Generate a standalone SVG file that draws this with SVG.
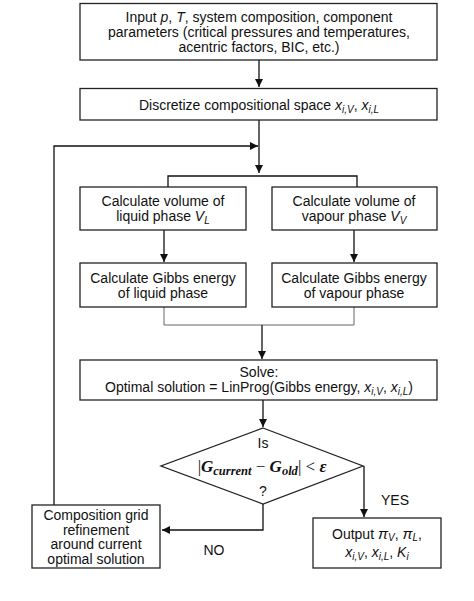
<svg xmlns="http://www.w3.org/2000/svg" width="474" height="601" viewBox="0 0 474 601">
<defs>
<marker id="ah" viewBox="0 0 10 10" refX="10" refY="5" markerWidth="8" markerHeight="9" markerUnits="userSpaceOnUse" orient="auto">
<path d="M0,0 L10,5 L0,10 z" fill="#111"/>
</marker>
<style>
.box{fill:#fff;stroke:#222;stroke-width:1.3}
.t{font-family:"Liberation Sans",Arial,sans-serif;font-size:14px;fill:#111;text-anchor:middle}
.i{font-style:italic}
.s{font-size:10px;font-style:italic}
.ln{fill:none;stroke:#111;stroke-width:1.3}
.gl{fill:none;stroke:#666;stroke-width:1}
.ar{fill:none;stroke:#111;stroke-width:1.3;marker-end:url(#ah)}
.m{font-family:"Liberation Serif","DejaVu Serif",serif;font-size:17px;font-weight:bold;font-style:italic;fill:#111;text-anchor:middle}
</style>
</defs>
<rect width="474" height="601" fill="#fff"/>
<g id="connectors">
<path class="ar" d="M259,60 L259,87"/>
<path class="ar" d="M259,120 L259,173"/>
<path class="ar" d="M54,505 L54,146 L258,146"/>
<path class="ln" d="M168,187 L168,176 L357,176 L357,187"/>
<path class="ar" d="M164,230 L164,262"/>
<path class="ar" d="M354,230 L354,262"/>
<path class="gl" d="M164,307 L164,325 L354,325 L354,307"/>
<path class="ar" d="M262,325 L262,359"/>
<path class="ar" d="M263,400 L263,427"/>
<path class="ar" d="M364,466 L364,517"/>
<path class="ar" d="M263,504 L263,530 L162,530"/>
</g>
<g id="input">
<rect class="box" x="80" y="3.5" width="357" height="56.5"/>
<text class="t" x="259" y="22">Input <tspan class="i">p</tspan>, <tspan class="i">T</tspan>, system composition, component</text>
<text class="t" x="259" y="37">parameters (critical pressures and temperatures,</text>
<text class="t" x="259" y="52">acentric factors, BIC, etc.)</text>
</g>
<g id="discretize">
<rect class="box" x="80" y="88.5" width="357" height="31.5"/>
<text class="t" x="259" y="110">Discretize compositional space <tspan class="i">x</tspan><tspan class="s" dy="3">i,V</tspan><tspan dy="-3">, </tspan><tspan class="i">x</tspan><tspan class="s" dy="3">i,L</tspan></text>
</g>
<g id="volL">
<rect class="box" x="80" y="187" width="166" height="43"/>
<text class="t" x="163" y="206">Calculate volume of</text>
<text class="t" x="163" y="221">liquid phase <tspan class="i">V</tspan><tspan class="s" dy="3">L</tspan></text>
</g>
<g id="volV">
<rect class="box" x="272" y="187" width="165" height="43"/>
<text class="t" x="354" y="206">Calculate volume of</text>
<text class="t" x="354" y="221">vapour phase <tspan class="i">V</tspan><tspan class="s" dy="3">V</tspan></text>
</g>
<g id="gibbsL">
<rect class="box" x="80" y="263" width="166" height="44"/>
<text class="t" x="163" y="283">Calculate Gibbs energy</text>
<text class="t" x="163" y="298">of liquid phase</text>
</g>
<g id="gibbsV">
<rect class="box" x="272" y="263" width="165" height="44"/>
<text class="t" x="354" y="283">Calculate Gibbs energy</text>
<text class="t" x="354" y="298">of vapour phase</text>
</g>
<g id="solve">
<rect class="box" x="80" y="360" width="357" height="40"/>
<text class="t" x="259" y="377">Solve:</text>
<text class="t" x="259" y="392">Optimal solution = LinProg(Gibbs energy, <tspan class="i">x</tspan><tspan class="s" dy="3">i,V</tspan><tspan dy="-3">, </tspan><tspan class="i">x</tspan><tspan class="s" dy="3">i,L</tspan><tspan dy="-3">)</tspan></text>
</g>
<g id="decision">
<polygon class="box" points="263,428 363,466 263,504 161,466"/>
<text class="t" x="263" y="448">Is</text>
<text class="m" x="262" y="472"><tspan font-weight="normal" font-style="normal">|</tspan>G<tspan font-size="12.5" dy="3">current</tspan><tspan dy="-3" font-weight="normal" font-style="normal"> − </tspan>G<tspan font-size="12.5" dy="3">old</tspan><tspan dy="-3" font-weight="normal" font-style="normal">| &lt; </tspan>ε</text>
<text class="t" x="263" y="496">?</text>
</g>
<g id="refine">
<rect class="box" x="32" y="505" width="128" height="63"/>
<text class="t" x="96" y="520">Composition grid</text>
<text class="t" x="96" y="534.5">refinement</text>
<text class="t" x="96" y="549">around current</text>
<text class="t" x="96" y="563.5">optimal solution</text>
</g>
<g id="output">
<rect class="box" x="313" y="518" width="128" height="50"/>
<text class="t" x="377" y="539">Output <tspan class="i" font-size="15">π</tspan><tspan class="s" dy="2">V</tspan><tspan dy="-2">, </tspan><tspan class="i" font-size="15">π</tspan><tspan class="s" dy="2">L</tspan><tspan dy="-2">,</tspan></text>
<text class="t" x="377" y="557"><tspan class="i">x</tspan><tspan class="s" dy="3">i,V</tspan><tspan dy="-3">, </tspan><tspan class="i">x</tspan><tspan class="s" dy="3">i,L</tspan><tspan dy="-3">, </tspan><tspan class="i">K</tspan><tspan class="s" dy="3">i</tspan></text>
</g>
<g id="labels">
<text class="t" x="395" y="505">YES</text>
<text class="t" x="214" y="555">NO</text>
</g>
</svg>
